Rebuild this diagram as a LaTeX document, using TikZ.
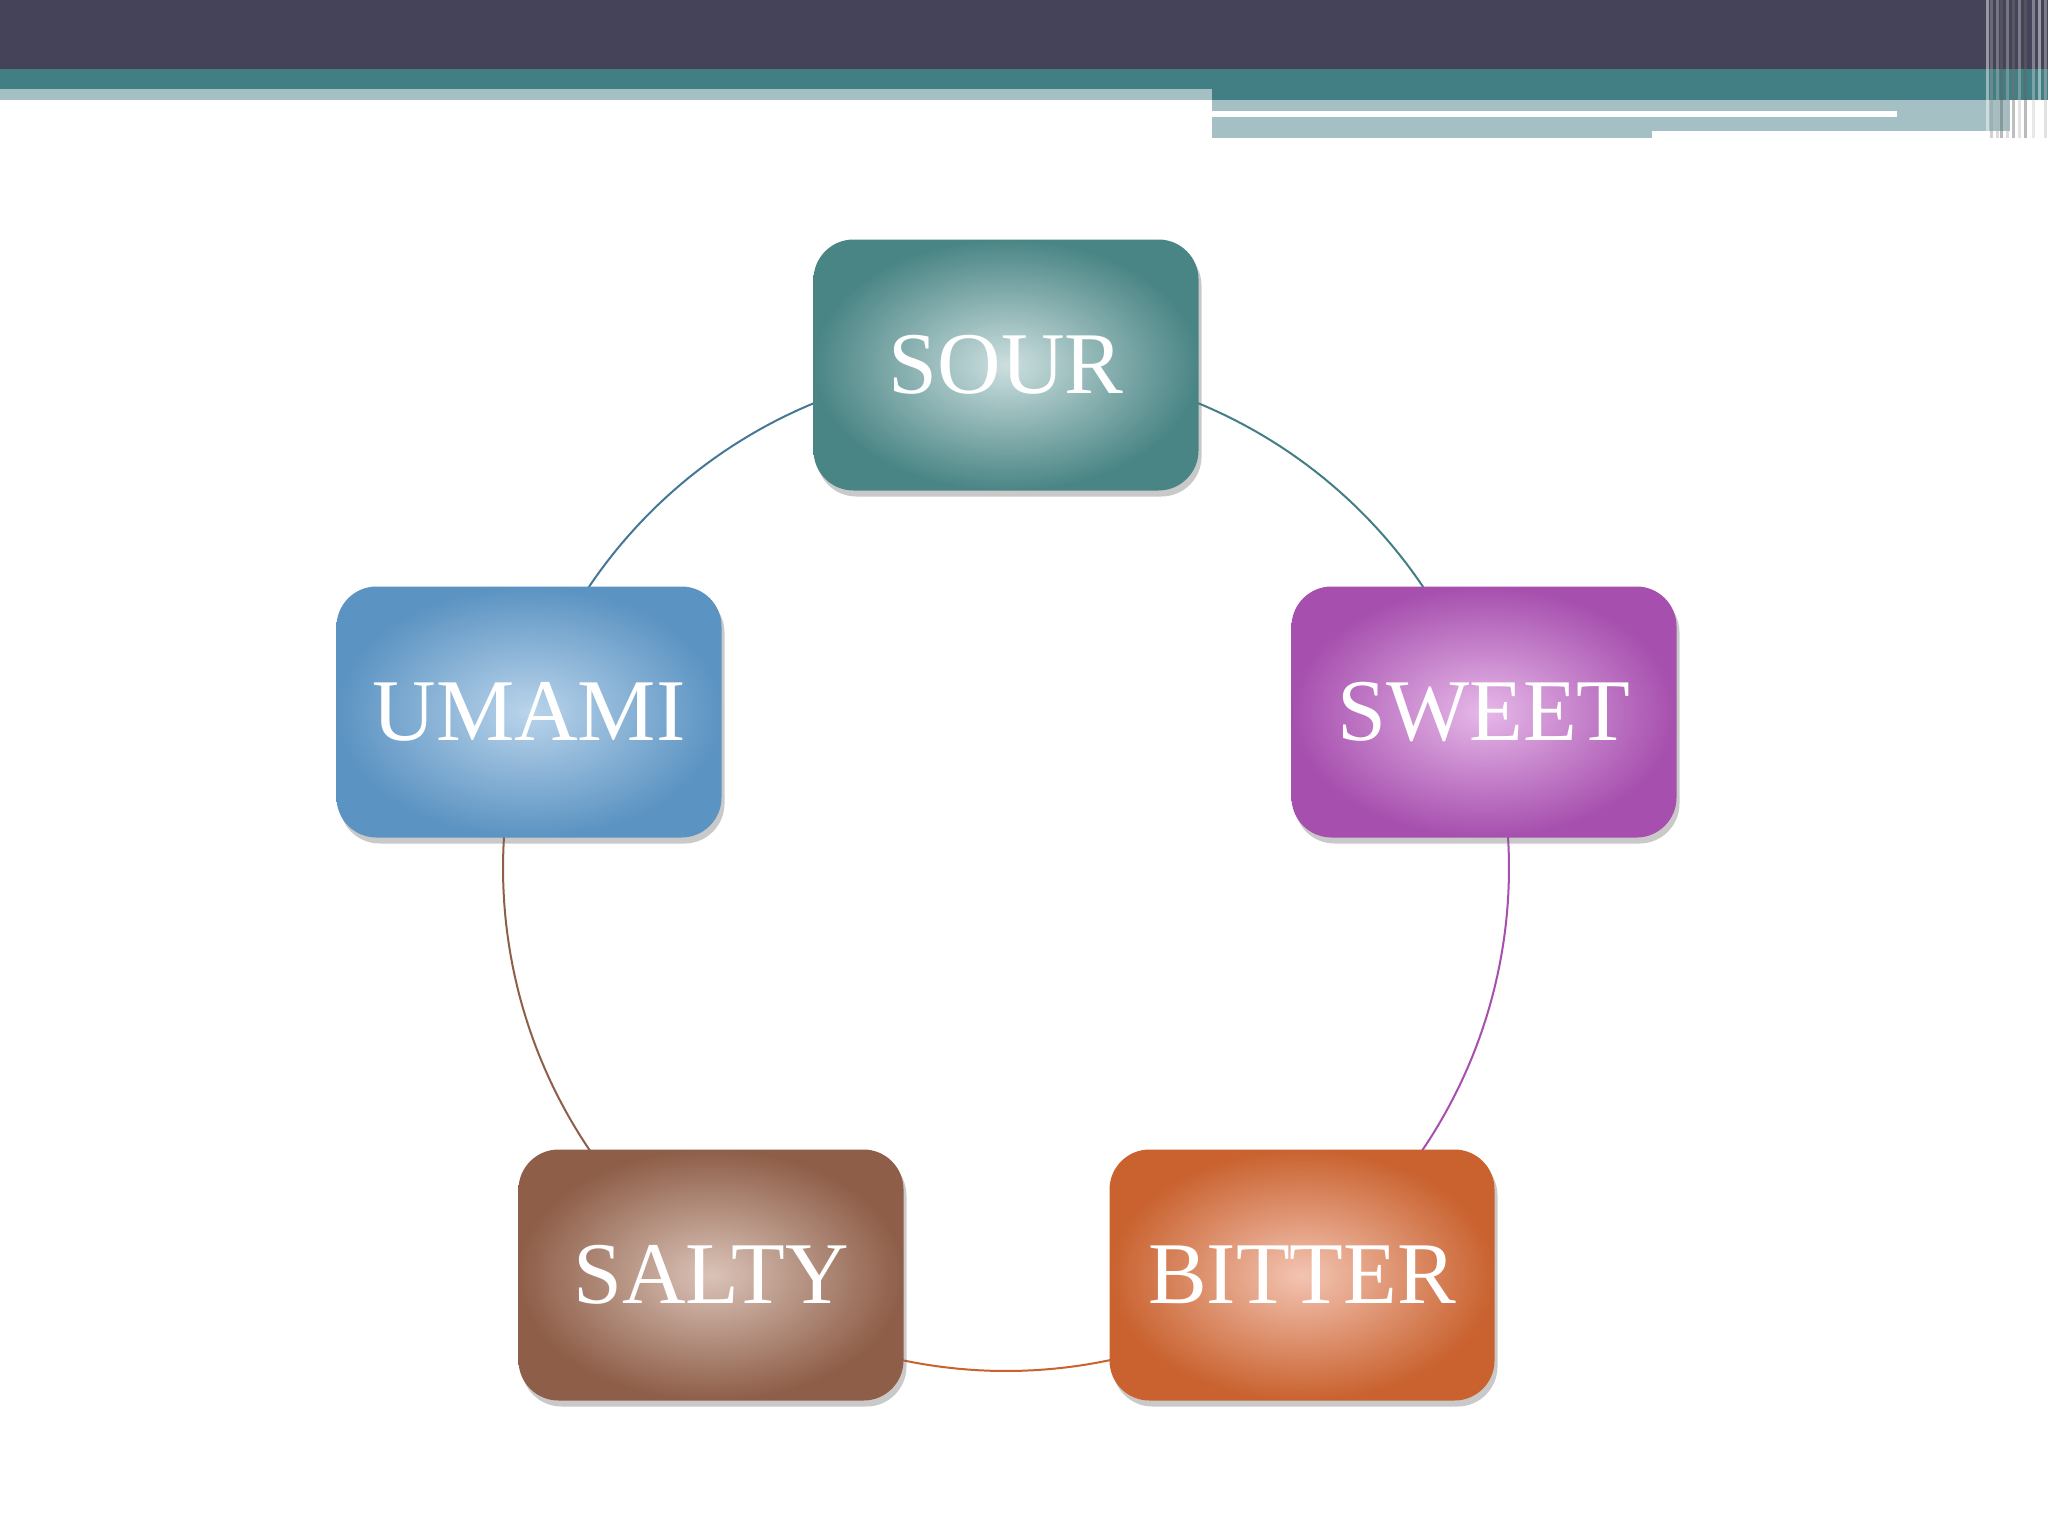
\documentclass[tikz,border=0pt]{standalone}
\usepackage{fontspec}
\setmainfont{Liberation Serif}
\usetikzlibrary{shadows}
\begin{document}
\begin{tikzpicture}[x=0.5pt,y=-0.5pt,
  taste/.style={rounded corners=20pt,minimum width=192.5pt,minimum height=125.5pt,
    shading=radial,text=white,font=\fontsize{44}{50}\selectfont,
    drop shadow={shadow xshift=1.5pt,shadow yshift=-3pt,opacity=0.35,fill=black!60}},
  link/.style={line width=1pt}]
\useasboundingbox (0,0) rectangle (2048,1536);
\fill[white] (0,0) rectangle (2048,1536);
% header
\fill[fill={rgb,255:red,69;green,67;blue,90}] (0,0) rectangle (2048,69);
\fill[fill={rgb,255:red,66;green,127;blue,132}] (0,69) rectangle (2048,100);
\fill[fill={rgb,255:red,164;green,192;blue,196}] (0,89) rectangle (1212,100);
\fill[fill={rgb,255:red,164;green,192;blue,196}] (1212,100) rectangle (2010,131);
\fill[fill={rgb,255:red,164;green,192;blue,196}] (1212,131) rectangle (1652,138);
\fill[white] (1212,111) rectangle (1897,117);
\foreach \xx/\cc in {1986/white,1990/black!40,1996/black!30,2000/black!60,2006/black!30,2012/black!55,2018/black!25,2024/black!60,2032/black!20,2038/white,2044/black!25}
  \fill[\cc,opacity=0.45] (\xx,0) rectangle ++(2.5,138);
% arcs
\draw[link,color={rgb,255:red,66;green,127;blue,132}] plot[domain=90:18,samples=60] ({1006+503*cos(\x)},{868-503*sin(\x)});
\draw[link,color={rgb,255:red,166;green,79;blue,174}] plot[domain=18:-54,samples=60] ({1006+503*cos(\x)},{868-503*sin(\x)});
\draw[link,color={rgb,255:red,201;green,98;blue,47}] plot[domain=-54:-126,samples=60] ({1006+503*cos(\x)},{868-503*sin(\x)});
\draw[link,color={rgb,255:red,142;green,94;blue,72}] plot[domain=-126:-198,samples=60] ({1006+503*cos(\x)},{868-503*sin(\x)});
\draw[link,color={rgb,255:red,70;green,120;blue,150}] plot[domain=162:90,samples=60] ({1006+503*cos(\x)},{868-503*sin(\x)});
% boxes
\node[taste,inner color={rgb,255:red,205;green,223;blue,223},outer color={rgb,255:red,74;green,133;blue,133}] (sour) at (1006,365) {SOUR};
\node[taste,inner color={rgb,255:red,230;green,184;blue,232},outer color={rgb,255:red,166;green,79;blue,174}] (sweet) at (1484,712) {SWEET};
\node[taste,inner color={rgb,255:red,243;green,196;blue,178},outer color={rgb,255:red,201;green,98;blue,47}] (bitter) at (1302,1275) {BITTER};
\node[taste,inner color={rgb,255:red,218;green,195;blue,184},outer color={rgb,255:red,142;green,94;blue,72}] (salty) at (711,1275) {SALTY};
\node[taste,inner color={rgb,255:red,186;green,212;blue,235},outer color={rgb,255:red,91;green,147;blue,194}] (umami) at (529,712) {UMAMI};
\end{tikzpicture}
\end{document}
